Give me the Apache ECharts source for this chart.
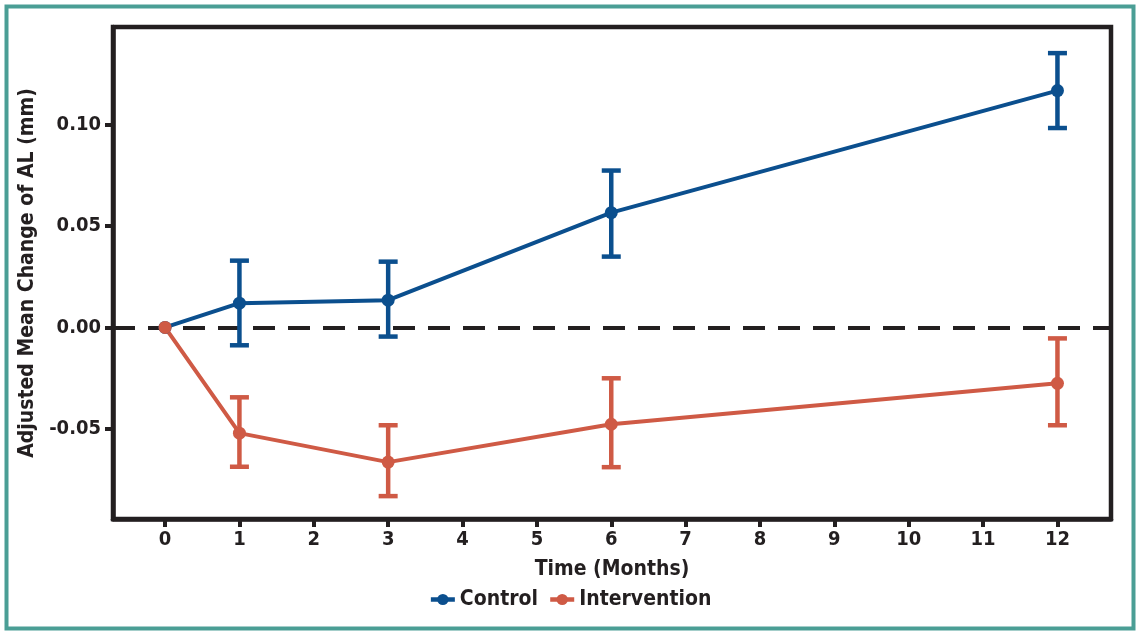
<!DOCTYPE html>
<html>
<head>
<meta charset="utf-8">
<script src="https://cdn.jsdelivr.net/npm/echarts@6/dist/echarts.min.js"></script>
<style>
  html, body { margin: 0; padding: 0; background: #fff; }
  #chart { width: 1140px; height: 634px; }
</style>
</head>
<body>
<div id="chart"></div>
<script>
// 时间点（月）
const months = [0, 1, 3, 6, 12]
const xTicks = [0, 1, 2, 3, 4, 5, 6, 7, 8, 9, 10, 11, 12]
const yTicks = [-0.05, 0, 0.05, 0.10]

// Control 组
const controlMean = [0, 0.012, 0.0135, 0.0567, 0.117]
const controlLow = [null, -0.0088, -0.0045, 0.035, 0.0985]
const controlHigh = [null, 0.033, 0.0325, 0.0775, 0.1355]

// Intervention 组
const interMean = [0, -0.0522, -0.0665, -0.0478, -0.0276]
const interLow = [null, -0.0688, -0.0833, -0.069, -0.0483]
const interHigh = [null, -0.0345, -0.0483, -0.0251, -0.0054]

const blue = '#0b4f8e'
const red = '#cf5a45'
const ink = '#231f20'
const font = 'DejaVu Sans Condensed'

const pts = (ys) => months.map((m, i) => [m, ys[i]])
const bars = (lo, hi) => months
  .map((m, i) => [m, lo[i], hi[i]])
  .filter(d => d[1] != null)

// 误差线
const errorBar = (color) => (params, api) => {
  const lo = api.coord([api.value(0), api.value(1)])
  const hi = api.coord([api.value(0), api.value(2)])
  const w = 9.5
  const style = { stroke: color, lineWidth: 4.5 }
  return {
    type: 'group',
    children: [
      { type: 'line', shape: { x1: hi[0], y1: hi[1], x2: lo[0], y2: lo[1] }, style },
      { type: 'line', shape: { x1: hi[0] - w, y1: hi[1], x2: hi[0] + w, y2: hi[1] }, style },
      { type: 'line', shape: { x1: lo[0] - w, y1: lo[1], x2: lo[0] + w, y2: lo[1] }, style }
    ]
  }
}

const chart = echarts.init(document.getElementById('chart'))

chart.setOption({
  animation: false,
  textStyle: { fontFamily: font, color: ink, fontWeight: 'bold' },
  graphic: [{
    type: 'rect',
    shape: { x: 6.5, y: 6.5, width: 1127, height: 622 },
    style: { fill: 'none', stroke: '#4a9e95', lineWidth: 4 },
    z: 100
  }],
  grid: {
    left: 113, right: 29, top: 27, bottom: 115,
    show: true, borderColor: ink, borderWidth: 4.5
  },
  legend: {
    data: ['Control', 'Intervention'],
    bottom: 19,
    left: 'center',
    itemWidth: 24,
    itemHeight: 14,
    itemGap: 10,
    lineStyle: { width: 4.5 },
    textStyle: { fontFamily: font, fontWeight: 'bold', fontSize: 21, color: ink }
  },
  xAxis: {
    type: 'value',
    min: -0.7,
    max: 12.72,
    name: 'Time (Months)',
    nameLocation: 'middle',
    nameGap: 40,
    nameTextStyle: { fontFamily: font, fontWeight: 'bold', fontSize: 21, color: ink },
    splitLine: { show: false },
    axisLine: { show: true, onZero: false, lineStyle: { color: ink, width: 4.5 } },
    axisTick: { show: true, length: 8, customValues: xTicks, lineStyle: { color: ink, width: 4 } },
    axisLabel: { customValues: xTicks, fontFamily: font, fontWeight: 'bold', fontSize: 20, color: ink, margin: 11 }
  },
  yAxis: {
    type: 'value',
    min: -0.0946,
    max: 0.1484,
    name: 'Adjusted Mean Change of AL (mm)',
    nameLocation: 'middle',
    nameGap: 72,
    nameTextStyle: { fontFamily: font, fontWeight: 'bold', fontSize: 21, color: ink },
    splitLine: { show: false },
    axisLine: { show: true, onZero: false, lineStyle: { color: ink, width: 4.5 } },
    axisTick: { show: true, length: 8, customValues: yTicks, lineStyle: { color: ink, width: 4 } },
    axisLabel: {
      customValues: yTicks,
      fontFamily: font, fontWeight: 'bold', fontSize: 20, color: ink, margin: 12,
      formatter: v => v.toFixed(2)
    }
  },
  series: [
    {
      name: 'Control',
      type: 'line',
      data: pts(controlMean),
      color: blue,
      symbol: 'circle',
      symbolSize: 13,
      lineStyle: { width: 4 },
      z: 5,
      markLine: {
        silent: true,
        symbol: 'none',
        label: { show: false },
        lineStyle: { color: ink, type: [22, 13], width: 4 },
        data: [{ yAxis: 0 }],
        z: 2
      }
    },
    {
      name: 'Intervention',
      type: 'line',
      data: pts(interMean),
      color: red,
      symbol: 'circle',
      symbolSize: 13,
      lineStyle: { width: 4 },
      z: 5
    },
    {
      name: 'ControlErr',
      type: 'custom',
      data: bars(controlLow, controlHigh),
      renderItem: errorBar(blue),
      encode: { x: 0, y: [1, 2] },
      z: 4
    },
    {
      name: 'InterErr',
      type: 'custom',
      data: bars(interLow, interHigh),
      renderItem: errorBar(red),
      encode: { x: 0, y: [1, 2] },
      z: 4
    }
  ]
})
</script>
</body>
</html>
